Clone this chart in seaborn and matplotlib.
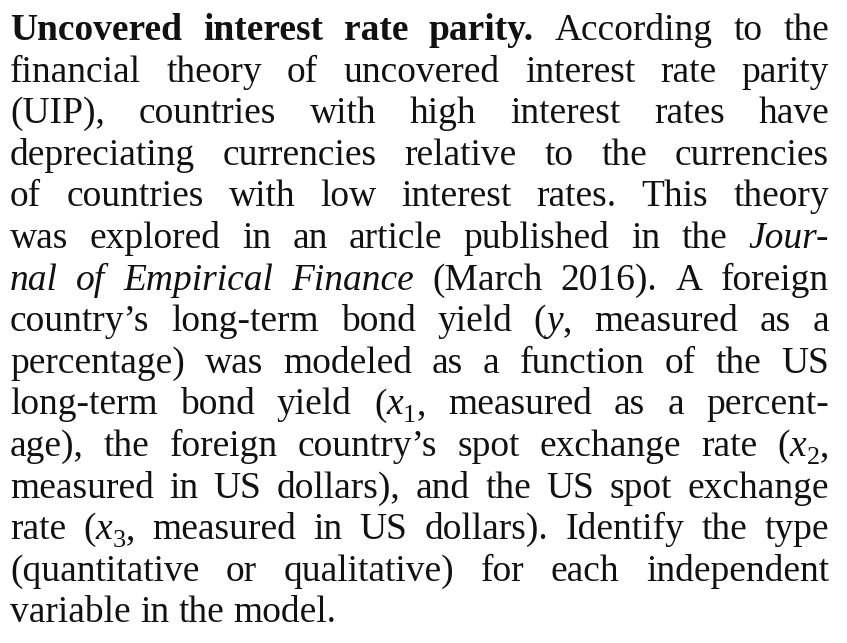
import matplotlib
matplotlib.use("Agg")
import matplotlib.pyplot as plt
import seaborn as sns

sns.set_theme(style="white")
plt.rcParams['font.family'] = ['Liberation Serif', 'DejaVu Serif']

# markup: ^ toggles bold, ~ toggles italic, _ makes next char a subscript
LINES = [
    "^Uncovered interest rate parity.^ According to the",
    "financial theory of uncovered interest rate parity",
    "(UIP), countries with high interest rates have",
    "depreciating currencies relative to the currencies",
    "of countries with low interest rates. This theory",
    "was explored in an article published in the ~Jour-~",
    "~nal of Empirical Finance~ (March 2016). A foreign",
    "country\u2019s long-term bond yield (~y~, measured as a",
    "percentage) was modeled as a function of the US",
    "long-term bond yield (~x~_1, measured as a percent-",
    "age), the foreign country\u2019s spot exchange rate (~x~_2,",
    "measured in US dollars), and the US spot exchange",
    "rate (~x~_3, measured in US dollars). Identify the type",
    "(quantitative or qualitative) for each independent",
    "variable in the model.",
]

W, H = 847, 643
FS = 27
LEFT, RIGHT = 10, 829
TOP_BASE, PITCH = 40, 41.6

fig = plt.figure(figsize=(W/100, H/100), dpi=100)
ax = fig.add_axes([0, 0, 1, 1])
ax.set_xlim(0, W); ax.set_ylim(H, 0); ax.axis('off')
r = fig.canvas.get_renderer()

def parse_word(w, state):
    pieces = []
    i = 0
    buf = ""
    def flush():
        nonlocal buf
        if buf:
            pieces.append((buf, state['b'], state['i'], False))
            buf = ""
    while i < len(w):
        c = w[i]
        if c == '^':
            flush(); state['b'] = not state['b']
        elif c == '~':
            flush(); state['i'] = not state['i']
        elif c == '_':
            flush(); pieces.append((w[i+1], False, False, True)); i += 1
        else:
            buf += c
        i += 1
    flush()
    return pieces

def width(s, b, it, sub):
    t = ax.text(0, 0, s, fontsize=FS*(0.7 if sub else 1),
                fontweight='bold' if b else 'normal',
                fontstyle='italic' if it else 'normal')
    wd = t.get_window_extent(r).width
    t.remove()
    return wd

space = width("a b", False, False, False) - width("ab", False, False, False)
state = {'b': False, 'i': False}
for li, line in enumerate(LINES):
    words = [parse_word(w, state) for w in line.split(" ")]
    wws = [sum(width(*p) for p in w) for w in words]
    total = sum(wws)
    last = li == len(LINES) - 1
    gap = space if last else (RIGHT - LEFT - total) / (len(words) - 1)
    y = TOP_BASE + li * PITCH
    x = LEFT
    for w, ww in zip(words, wws):
        for (s, b, it, sub) in w:
            ax.text(x, y + (8 if sub else 0), s, fontsize=FS*(0.7 if sub else 1),
                    fontweight='bold' if b else 'normal',
                    fontstyle='italic' if it else 'normal',
                    va='baseline', ha='left', color='#111111')
            x += width(s, b, it, sub)
        x += gap

fig.savefig("out.png", dpi=100, facecolor='white')
